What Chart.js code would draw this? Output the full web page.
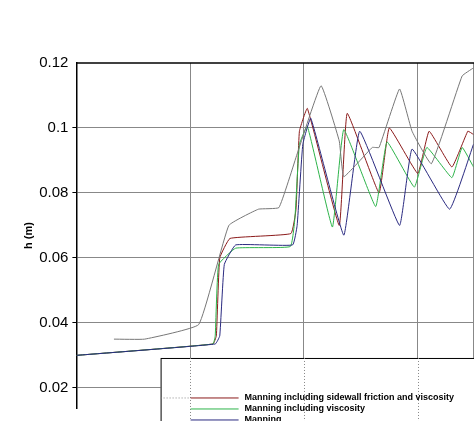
<!DOCTYPE html>
<html><head>
<script src="https://cdn.jsdelivr.net/npm/chart.js@4"></script>
<style>html,body{margin:0;padding:0;background:#fff;overflow:hidden}</style>
</head><body>
<div style="width:474px;height:421px"><canvas id="c"></canvas></div>
<script>
// x positions (arbitrary time units) and depths h (m) per series
const redX = [0, 1.2, 1.23, 1.26, 1.35, 1.885, 1.93, 1.96, 2.03, 2.31, 2.38, 2.66, 2.75, 3.0, 3.1, 3.3, 3.44, 3.49];
const redY = [0.030, 0.0335, 0.036, 0.060, 0.066, 0.0675, 0.075, 0.099, 0.106, 0.070, 0.1045, 0.080, 0.100, 0.086, 0.099, 0.088, 0.099, 0.098];
const greenX = [0, 1.2, 1.22, 1.25, 1.4, 1.88, 1.92, 1.96, 2.03, 2.25, 2.35, 2.63, 2.73, 2.97, 3.08, 3.3, 3.39, 3.49];
const greenY = [0.030, 0.0335, 0.036, 0.058, 0.063, 0.0635, 0.072, 0.095, 0.1005, 0.0695, 0.0995, 0.0758, 0.0957, 0.0818, 0.094, 0.0847, 0.094, 0.088];
const blueX = [0, 1.22, 1.26, 1.3, 1.4, 1.9, 1.94, 1.99, 2.06, 2.35, 2.49, 2.84, 2.95, 3.28, 3.49];
const blueY = [0.030, 0.0335, 0.036, 0.058, 0.064, 0.064, 0.070, 0.095, 0.103, 0.067, 0.099, 0.070, 0.0935, 0.075, 0.095];
const grayX = [0.33, 0.6, 1.075, 1.34, 1.6, 1.78, 1.94, 2.15, 2.31, 2.35, 2.6, 2.66, 2.84, 2.95, 3.12, 3.39, 3.49];
const grayY = [0.035, 0.035, 0.0395, 0.070, 0.075, 0.0755, 0.092, 0.113, 0.096, 0.085, 0.094, 0.094, 0.112, 0.099, 0.089, 0.116, 0.1185];
const yTicks = [0.02, 0.04, 0.06, 0.08, 0.1, 0.12];
const legendLabels = ["Manning including sidewall friction and viscosity", "Manning including viscosity", "Manning"];

const pts = (xs, ys) => xs.map((x, i) => ({x, y: ys[i]}));
const ds = (label, xs, ys, color) => ({label, data: pts(xs, ys), borderColor: color, borderWidth: 1, pointRadius: 0, tension: 0.1, fill: false});

const legendBox = {
  id: "legendBox",
  afterDraw(chart) {
    const ctx = chart.ctx, xs = chart.scales.x;
    const left = xs.getPixelForValue(0.74), top = chart.scales.y.getPixelForValue(0.0292);
    ctx.save();
    ctx.fillStyle = "#fff";
    ctx.fillRect(left, top, 480 - left, 80);
    ctx.strokeStyle = "#000"; ctx.lineWidth = 1;
    ctx.strokeRect(left + 0.5, top + 0.5, 480 - left, 80);
    ctx.setLineDash([1, 2]); ctx.strokeStyle = "#888";
    [1, 2, 3].forEach(v => { const p = Math.round(xs.getPixelForValue(v)) + 0.5; ctx.beginPath(); ctx.moveTo(p, top); ctx.lineTo(p, 421); ctx.stroke(); });
    ctx.beginPath(); ctx.moveTo(left, top + 40); ctx.lineTo(left + 30, top + 40); ctx.stroke();
    ctx.setLineDash([]);
    const cols = ["#8b1a1a", "#2db34a", "#2a2a80"];
    ctx.font = "bold 9px Arial, 'Liberation Sans'";
    ctx.textBaseline = "middle"; ctx.fillStyle = "#000";
    legendLabels.forEach((t, i) => {
      const y = top + 40 + i * 11;
      ctx.strokeStyle = cols[i];
      ctx.beginPath(); ctx.moveTo(left + 30, y); ctx.lineTo(left + 78, y); ctx.stroke();
      ctx.fillText(t, left + 84, y);
    });
    ctx.restore();
  }
};

new Chart(document.getElementById("c"), {
  type: "line",
  data: { datasets: [
    ds("gray", grayX, grayY, "#777"),
    ds(legendLabels[2], blueX, blueY, "#2a2a80"),
    ds(legendLabels[1], greenX, greenY, "#2db34a"),
    ds(legendLabels[0], redX, redY, "#8b1a1a")
  ]},
  options: {
    responsive: true, maintainAspectRatio: false, animation: false,
    layout: { padding: { top: 63, right: -10, bottom: -10, left: 22 } },
    plugins: { legend: { display: false }, tooltip: { enabled: false } },
    scales: {
      x: { type: "linear", min: 0, max: 3.49, display: true,
        ticks: { display: false, stepSize: 1 }, border: { display: false },
        grid: { color: "#888", tickLength: 0, drawTicks: false, lineWidth: c => c.tick.value === 0 ? 0 : 1 } },
      y: { min: 0.0138, max: 0.12,
        afterBuildTicks: a => { a.ticks = yTicks.map(v => ({value: v})); },
        ticks: { color: "#000", font: { family: "Arial, 'Liberation Sans'", size: 15 }, padding: 4, callback: v => String(v) },
        title: { display: true, text: "h (m)", color: "#000", padding: 0, font: { family: "Arial, 'Liberation Sans'", size: 11, weight: "bold" } },
        border: { display: true, color: "#000", width: 1.5 },
        grid: { color: "#888", drawTicks: true, tickLength: 4, tickColor: "#000", lineWidth: c => (c.tick.value === 0.12 ? 0 : 1) } }
    }
  },
  plugins: [legendBox, {
    id: "dash",
    beforeDatasetsDraw(chart) {},
    beforeDraw(chart) {
      chart.scales.x.options.grid.borderDash = [1, 2];
    },
    afterDraw(chart) {
      const {ctx, chartArea: a} = chart;
      ctx.save(); ctx.strokeStyle = "#000"; ctx.lineWidth = 1.5;
      ctx.beginPath(); ctx.moveTo(a.left, a.top); ctx.lineTo(a.right + 20, a.top); ctx.stroke();
      ctx.restore();
    }
  }]
});
// dotted grid lines, as in the source plot
Chart.defaults.scale.grid.borderDash = [1, 2];
const ch = Chart.getChart("c");
ch.options.scales.x.border.dash = [];
ch.options.scales.x.grid.tickBorderDash = [];
ch.options.scales.x.border = { display: false };
ch.options.scales.y.border = { display: true, color: "#000", width: 1.5 };
ch.options.scales.x.grid.borderDash = [1, 2];
ch.options.scales.y.border.dash = [];
ch.options.scales.x.border.dash = [];
ch.update();
</script>
</body></html>
